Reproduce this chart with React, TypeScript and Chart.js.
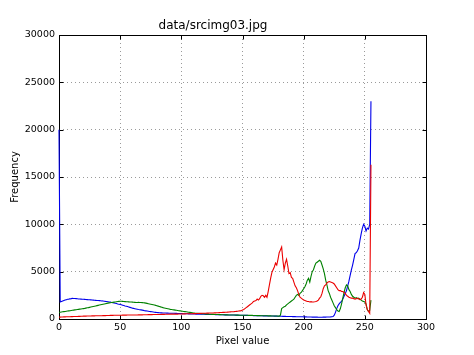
import React, { useEffect, useRef } from "react";
import { Chart, registerables } from "chart.js";

Chart.register(...registerables);

const titleText = "data/srcimg03.jpg";
const xLabel = "Pixel value";
const yLabel = "Frequency";
const xTicks = [0, 50, 100, 150, 200, 250, 300];
const yTicks = [0, 5000, 10000, 15000, 20000, 25000, 30000];

// histogram counts, index = pixel value 0..255
const blueHist = [
  20000, 1800, 1850, 1900, 1950, 2000, 2040, 2080, 2100, 2130, 2150, 2180, 2170, 2160, 2150, 2140,
  2120, 2110, 2100, 2090, 2080, 2070, 2060, 2050, 2040, 2030, 2020, 2000, 1990, 1980, 1970, 1960,
  1950, 1940, 1930, 1910, 1900, 1880, 1860, 1850, 1830, 1800, 1780, 1750, 1730, 1700, 1660, 1630,
  1590, 1560, 1530, 1500, 1460, 1420, 1380, 1350, 1310, 1270, 1230, 1190, 1150, 1120, 1090, 1060,
  1030, 1000, 980, 960, 940, 910, 880, 860, 840, 820, 800, 780, 760, 740, 720, 700,
  680, 670, 660, 650, 645, 640, 635, 630, 625, 620, 615, 610, 605, 600, 600, 595,
  590, 585, 580, 575, 570, 565, 560, 555, 550, 550, 545, 540, 535, 530, 530, 525,
  520, 515, 510, 510, 505, 500, 500, 495, 490, 490, 485, 480, 480, 475, 470, 470,
  465, 460, 460, 455, 450, 450, 445, 440, 440, 435, 430, 430, 425, 420, 420, 415,
  410, 410, 405, 400, 400, 395, 390, 390, 385, 380, 380, 375, 370, 370, 365, 360,
  360, 355, 350, 350, 345, 340, 340, 335, 330, 330, 325, 320, 320, 315, 310, 310,
  305, 300, 300, 295, 290, 290, 285, 280, 280, 275, 270, 270, 265, 260, 260, 255,
  250, 250, 245, 240, 240, 235, 230, 230, 225, 220, 220, 215, 210, 210, 205, 200,
  200, 200, 195, 195, 190, 190, 190, 190, 195, 200, 200, 205, 210, 215, 220, 230,
  260, 400, 700, 1100, 1400, 1600, 1750, 1850, 2100, 2400, 2700, 3000, 3500, 4000, 4600, 5200,
  5700, 6300, 6900, 7000, 7200, 7500, 8300, 9000, 9600, 10000, 9800, 9300, 9600, 9500, 10000, 23000,
];

const greenHist = [
  700, 720, 740, 760, 780, 800, 820, 840, 860, 880, 900, 920, 940, 960, 980, 1000,
  1020, 1040, 1060, 1080, 1100, 1120, 1150, 1180, 1200, 1230, 1260, 1290, 1320, 1350, 1380, 1410,
  1440, 1470, 1500, 1530, 1560, 1590, 1620, 1650, 1680, 1700, 1720, 1740, 1760, 1780, 1800, 1820,
  1840, 1860, 1880, 1870, 1860, 1850, 1840, 1830, 1820, 1810, 1800, 1790, 1780, 1770, 1760, 1750,
  1750, 1760, 1750, 1740, 1730, 1720, 1700, 1680, 1650, 1620, 1590, 1560, 1530, 1500, 1470, 1440,
  1400, 1360, 1320, 1280, 1240, 1200, 1170, 1140, 1110, 1080, 1050, 1020, 1000, 980, 960, 940,
  920, 900, 880, 860, 840, 820, 800, 780, 760, 740, 720, 700, 680, 660, 640, 620,
  610, 600, 590, 580, 570, 560, 550, 540, 530, 520, 510, 500, 500, 490, 490, 480,
  480, 470, 470, 460, 460, 450, 450, 450, 440, 440, 440, 430, 430, 430, 420, 420,
  420, 410, 410, 410, 400, 400, 400, 400, 390, 390, 390, 380, 380, 380, 380, 370,
  370, 370, 360, 360, 360, 350, 350, 350, 340, 340, 340, 330, 330, 330, 320, 320,
  320, 310, 310, 300, 300, 400, 1100, 1200, 1300, 1350, 1500, 1600, 1700, 1800, 1900, 2000,
  2100, 2300, 2500, 2600, 2500, 2700, 2800, 3000, 3200, 3400, 3700, 4100, 4300, 3900, 4500, 5000,
  5200, 5600, 5900, 6000, 6100, 6200, 6100, 5700, 5300, 4800, 4100, 3600, 3000, 2700, 2300, 2000,
  1700, 1400, 1200, 1000, 850, 800, 1100, 1600, 2200, 2800, 3300, 3600, 3500, 3100, 2900, 2600,
  2400, 2300, 2200, 2250, 2150, 2200, 2100, 2000, 1900, 1850, 1800, 1600, 1000, 800, 900, 2000,
];

const redHist = [
  200, 200, 210, 210, 220, 220, 230, 230, 240, 240, 250, 250, 260, 260, 270, 270,
  280, 280, 290, 290, 300, 300, 300, 310, 310, 320, 320, 330, 330, 330, 340, 340,
  340, 350, 350, 350, 360, 360, 360, 370, 370, 370, 380, 380, 380, 390, 390, 390,
  400, 400, 400, 400, 410, 410, 410, 410, 420, 420, 420, 420, 430, 430, 430, 430,
  430, 440, 440, 440, 440, 450, 450, 450, 450, 460, 460, 460, 460, 470, 470, 470,
  470, 480, 480, 480, 490, 490, 490, 500, 500, 500, 500, 510, 510, 510, 520, 520,
  520, 520, 530, 530, 530, 540, 540, 540, 550, 550, 550, 560, 560, 560, 570, 570,
  570, 580, 580, 590, 590, 600, 600, 610, 610, 620, 620, 630, 630, 640, 640, 650,
  650, 660, 660, 670, 680, 690, 700, 700, 710, 720, 730, 740, 750, 760, 770, 780,
  800, 810, 820, 840, 860, 880, 950, 1000, 1100, 1200, 1300, 1400, 1500, 1600, 1700, 1850,
  1900, 1950, 2100, 2000, 2150, 2400, 2500, 2450, 2300, 2500, 2300, 2900, 3600, 4300, 4900, 5200,
  5500, 5900, 5700, 6300, 7000, 7300, 7600, 6200, 5200, 5900, 6300, 5600, 4800, 4900, 4400, 4300,
  3900, 3500, 3300, 3000, 2600, 2300, 2200, 2100, 2000, 1950, 1900, 1850, 1850, 1800, 1830, 1800,
  1800, 1820, 1850, 1900, 2000, 2200, 2350, 2700, 3200, 3500, 3600, 3800, 3900, 3950, 3900, 3850,
  3800, 3700, 3500, 3300, 3100, 3000, 3000, 2900, 2900, 2800, 2700, 2500, 2400, 2300, 2250, 2200,
  2200, 2150, 2100, 2150, 2200, 2100, 2050, 2100, 2300, 2800, 2600, 1500, 1000, 800, 600, 16300,
];

const FONT = "'DejaVu Sans', sans-serif";

const toPoints = (arr: number[]) => arr.map((v, i) => ({ x: i, y: v }));

const framePlugin = {
  id: "frame",
  beforeDatasetsDraw(chart: any) {
    const { ctx, chartArea } = chart;
    const l = Math.round(chartArea.left) + 0.5;
    const r = Math.round(chartArea.right) + 0.5;
    const t = Math.round(chartArea.top) + 0.5;
    const b = Math.round(chartArea.bottom) + 0.5;
    ctx.save();
    ctx.strokeStyle = "#000";
    ctx.lineWidth = 1;
    ctx.beginPath();
    const xs = chart.scales.x;
    const ys = chart.scales.y;
    xTicks.slice(1, -1).forEach((v) => {
      const px = Math.round(xs.getPixelForValue(v)) + 0.5;
      ctx.moveTo(px, b);
      ctx.lineTo(px, b - 4);
      ctx.moveTo(px, t);
      ctx.lineTo(px, t + 4);
    });
    yTicks.slice(1, -1).forEach((v) => {
      const py = Math.round(ys.getPixelForValue(v)) + 0.5;
      ctx.moveTo(l, py);
      ctx.lineTo(l + 4, py);
      ctx.moveTo(r, py);
      ctx.lineTo(r - 4, py);
    });
    ctx.stroke();
    ctx.strokeRect(l, t, r - l, b - t);
    ctx.restore();
  },
};

export default function App() {
  const ref = useRef<HTMLCanvasElement | null>(null);

  useEffect(() => {
    if (!ref.current) return;
    const edgeHide = (min: number, max: number) => (c: any) =>
      c.tick && (c.tick.value === min || c.tick.value === max) ? "rgba(0,0,0,0)" : "#9a9a9a";
    const chart = new Chart(ref.current, {
      type: "line",
      data: {
        datasets: [
          {
            label: "b",
            data: toPoints(blueHist),
            borderColor: "rgb(0,0,235)",
            borderWidth: 1.1,
            pointRadius: 0,
            tension: 0,
            order: 2,
            clip: 1,
          },
          {
            label: "g",
            data: toPoints(greenHist),
            borderColor: "rgb(0,128,0)",
            borderWidth: 1.1,
            pointRadius: 0,
            tension: 0,
            order: 1,
            clip: 1,
          },
          {
            label: "r",
            data: toPoints(redHist),
            borderColor: "rgb(235,0,0)",
            borderWidth: 1.1,
            pointRadius: 0,
            tension: 0,
            order: 0,
            clip: 1,
          },
        ],
      },
      options: {
        responsive: false,
        animation: false,
        layout: { padding: { left: 0, right: 48, top: 0, bottom: 0 } },
        plugins: {
          legend: { display: false },
          tooltip: { enabled: false },
          title: {
            display: true,
            text: titleText,
            color: "#000",
            font: { family: FONT, size: 12, weight: "normal" },
            padding: { top: 19, bottom: 1.6 },
          },
        },
        scales: {
          x: {
            type: "linear",
            min: 0,
            max: 300,
            afterFit: (s: any) => {
              s.height = 36;
            },
            afterBuildTicks: (s: any) => {
              s.ticks = xTicks.map((v) => ({ value: v }));
            },
            ticks: {
              color: "#000",
              font: { family: FONT, size: 9.5 },
              padding: 3,
              maxRotation: 0,
              callback: (v: any) => String(v),
            },
            grid: { color: edgeHide(0, 300), drawTicks: false, lineWidth: 1 },
            border: { display: false, dash: [1, 3] },
            title: {
              display: true,
              text: xLabel,
              color: "#000",
              font: { family: FONT, size: 10 },
              padding: { top: 0, bottom: 7.3 },
            },
          },
          y: {
            type: "linear",
            min: 0,
            max: 30000,
            afterFit: (s: any) => {
              s.width = 59;
            },
            afterBuildTicks: (s: any) => {
              s.ticks = yTicks.map((v) => ({ value: v }));
            },
            ticks: {
              color: "#000",
              font: { family: FONT, size: 9.5 },
              padding: 4,
              callback: (v: any) => String(v),
            },
            grid: { color: edgeHide(0, 30000), drawTicks: false, lineWidth: 1 },
            border: { display: false, dash: [1, 3] },
            title: {
              display: true,
              text: yLabel,
              color: "#000",
              font: { family: FONT, size: 10 },
              padding: { top: 9, bottom: 0 },
            },
          },
        },
      },
      plugins: [framePlugin],
    } as any);
    return () => chart.destroy();
  }, []);

  return (
    <div style={{ position: "absolute", left: 0, top: 0, width: 474, height: 355, background: "#fff" }}>
      <canvas ref={ref} width={474} height={355} />
    </div>
  );
}
